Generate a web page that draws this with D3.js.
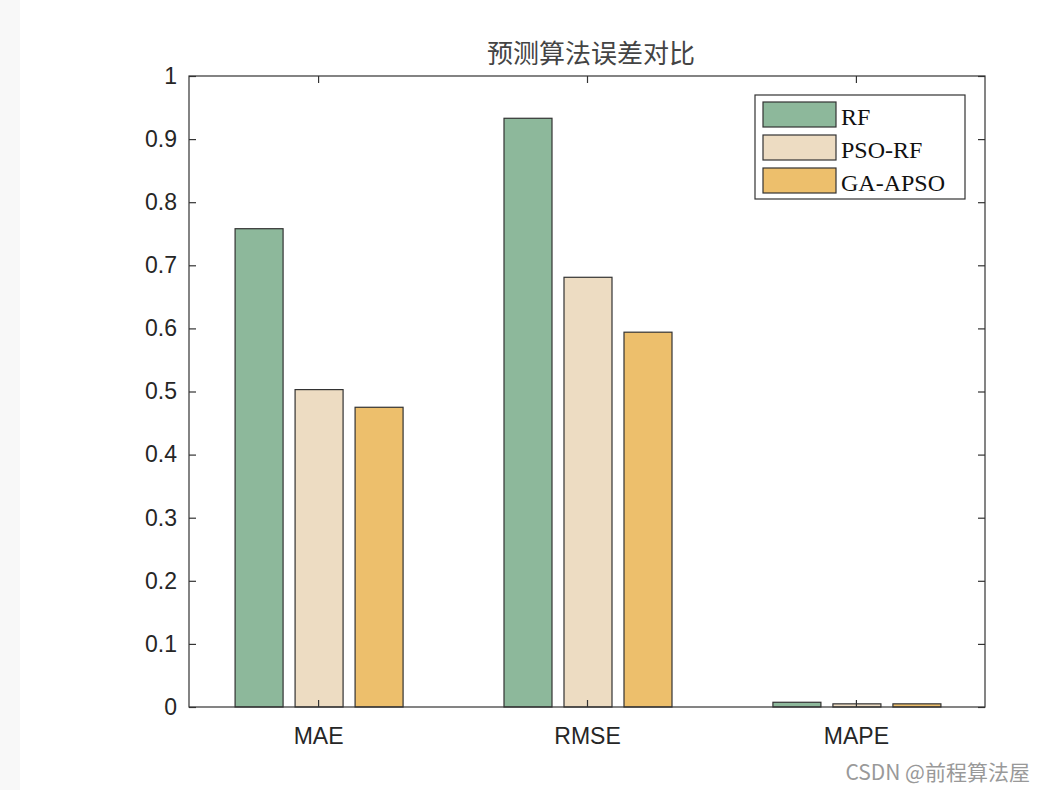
<!DOCTYPE html>
<html><head><meta charset="utf-8">
<script src="https://cdn.jsdelivr.net/npm/d3@7"></script>
<style>body{margin:0;background:#fff;} svg{display:block;}</style>
</head><body>
<svg id="c" width="1043" height="790"></svg>
<script>
const categories = ["MAE", "RMSE", "MAPE"];
const seriesNames = ["RF", "PSO-RF", "GA-APSO"];
const rfValues = [0.758, 0.933, 0.0075];
const psoRfValues = [0.503, 0.681, 0.005];
const gaApsoValues = [0.475, 0.594, 0.005];
const yTicks = [0, 0.1, 0.2, 0.3, 0.4, 0.5, 0.6, 0.7, 0.8, 0.9, 1];
const colors = ["#8db89b", "#eddcc2", "#edbf6c"];
const title = "预测算法误差对比";

const series = [rfValues, psoRfValues, gaApsoValues];
const svg = d3.select("#c");
svg.append("rect").attr("x",0).attr("y",0).attr("width",20).attr("height",790).attr("fill","#f8f8f8");

const L=189, R=985, T=76, B=707;
const x0 = d3.scalePoint().domain(categories).range([L,R]).padding(0.48);
const x1 = d3.scaleBand().domain(seriesNames).range([-83,85]).paddingInner(0.2).paddingOuter(0);
const y = d3.scaleLinear().domain([0,1]).range([B,T]);

// bars
categories.forEach((c,i)=>{
  seriesNames.forEach((s,j)=>{
    const v = series[j][i];
    svg.append("rect")
      .attr("x", x0(c)+x1(s)).attr("y", y(v))
      .attr("width", x1.bandwidth()).attr("height", Math.max(0.5, y(0)-y(v)))
      .attr("fill", colors[j]).attr("stroke","#333").attr("stroke-width",1.2);
  });
});

const axisColor = "#333";
const gl = svg.append("g").attr("transform",`translate(${L},0)`)
  .call(d3.axisLeft(y).tickValues(yTicks).tickFormat(d=>d3.format("")(d)).tickSizeInner(-7).tickSizeOuter(0).tickPadding(12));
const gr = svg.append("g").attr("transform",`translate(${R},0)`)
  .call(d3.axisRight(y).tickValues(yTicks).tickFormat("").tickSizeInner(-7).tickSizeOuter(0));
const gb = svg.append("g").attr("transform",`translate(0,${B})`)
  .call(d3.axisBottom(x0).tickSizeInner(-7).tickSizeOuter(0).tickPadding(21));
const gt = svg.append("g").attr("transform",`translate(0,${T})`)
  .call(d3.axisTop(x0).tickFormat("").tickSizeInner(-7).tickSizeOuter(0));
[gl,gr,gb,gt].forEach(g=>{
  g.select("path.domain").remove();
  g.selectAll("line").attr("stroke",axisColor).attr("stroke-width",1.2);
  g.selectAll("text").attr("fill","#262626").style("font-family","Liberation Sans, Arial, sans-serif").style("font-size","23px");
});
// box
svg.append("rect").attr("x",L).attr("y",T).attr("width",R-L).attr("height",B-T)
  .attr("fill","none").attr("stroke",axisColor).attr("stroke-width",1.2);

// title
svg.append("text").attr("x",591).attr("y",63).attr("text-anchor","middle")
  .style("font-family","Noto Sans CJK SC").style("font-size","26px").attr("fill","#444").text(title);

// legend
const lg = svg.append("g");
lg.append("rect").attr("x",755).attr("y",95).attr("width",210).attr("height",104)
  .attr("fill","#fff").attr("stroke","#333").attr("stroke-width",1.2);
seriesNames.forEach((s,j)=>{
  const yy = 102 + j*33;
  lg.append("rect").attr("x",763).attr("y",yy).attr("width",73).attr("height",25)
    .attr("fill",colors[j]).attr("stroke","#333").attr("stroke-width",1.2);
  lg.append("text").attr("x",841).attr("y",yy+23).text(s)
    .style("font-family","Liberation Serif, Times New Roman, serif").style("font-size","24px").attr("fill","#111");
});

// watermark
svg.append("text").attr("x",1030).attr("y",780).attr("text-anchor","end")
  .style("font-family","Noto Sans CJK SC").style("font-size","21px").attr("fill","#999").text("CSDN @前程算法屋");
</script>
</body></html>
